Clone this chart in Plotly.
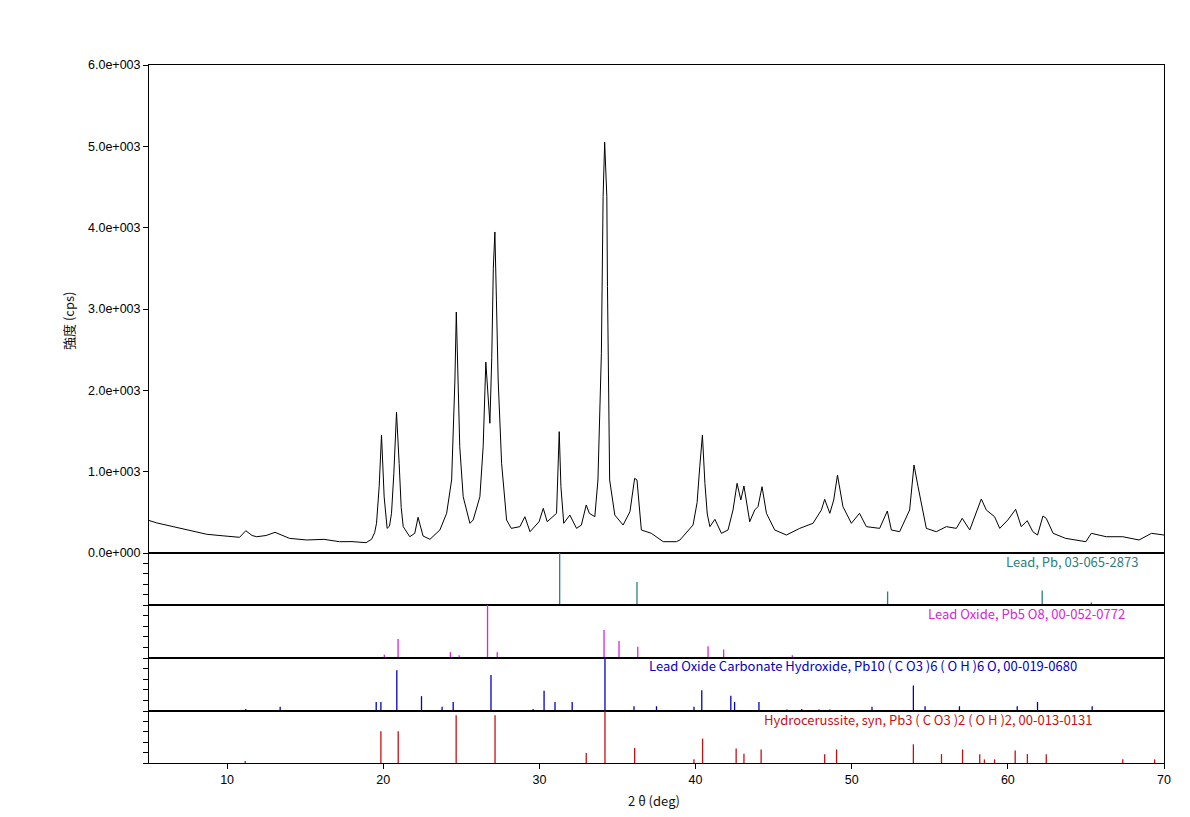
import plotly.graph_objects as go

# ---------------- data ----------------
two_theta = [5.0, 5.5, 6.55, 7.5, 8.7, 9.8, 10.8, 11.2, 11.6, 11.9, 12.5, 13.07, 13.5, 14.0, 15.1,
             16.2, 17.2, 18.0, 18.9, 19.25, 19.45, 19.57, 19.74, 19.89, 20.06, 20.25, 20.4, 20.53, 20.68, 20.85,
             21.02, 21.15, 21.28, 21.7, 22.02, 22.23, 22.55, 22.99, 23.63, 24.06, 24.38, 24.59, 24.68,
             24.9, 25.12, 25.55, 25.76, 26.19, 26.4, 26.5, 26.57, 26.83, 26.95, 27.05, 27.15, 27.25,
             27.36, 27.58, 27.9, 28.2, 28.75, 29.07, 29.4, 29.98, 30.25, 30.5, 31.1, 31.27,
             31.38, 31.56, 31.95, 32.38, 32.69, 33.0, 33.2, 33.55, 33.75, 33.97, 34.04, 34.08, 34.18,
             34.32, 34.36, 34.5,
             34.83, 35.36, 35.8, 36.1, 36.25, 36.53, 37.17, 37.93, 38.77, 39.0, 39.84, 40.1, 40.27, 40.44,
             40.6, 40.75, 40.92, 41.24, 41.66, 42.08, 42.4, 42.66, 42.9, 43.1, 43.47, 43.79, 44.0, 44.26,
             44.54, 45.07, 45.82, 46.67, 47.52, 48.06, 48.27, 48.6, 48.85, 49.09, 49.44, 49.98,
             50.5, 50.94, 51.79, 52.28, 52.54, 53.07, 53.71, 53.99, 54.25, 54.78, 55.42, 56.06,
             56.7, 57.08, 57.56, 57.98, 58.3, 58.62, 59.15, 59.48, 60.0, 60.5, 60.86, 61.24, 61.6,
             61.9, 62.25, 62.46, 62.9, 63.7, 65.0, 65.34, 66.3, 67.36, 68.4, 69.2, 70.0]
intensity = [400, 370, 324, 280, 230, 210, 193, 274, 215, 200, 215, 254, 220, 180, 160,
             168, 139, 140, 127, 168, 250, 365, 815, 1450, 690, 303, 330, 488, 980, 1730,
             1100, 560, 324, 200, 242, 439, 209, 168, 283, 488, 898, 2127, 2963,
             1307, 692, 365, 406, 692, 1307, 2127, 2348, 1595, 2400, 3500, 3947, 3100,
             2127, 1103, 406, 303, 324, 446, 262, 385, 549, 385, 488, 1492,
             815, 365, 467, 303, 344, 590, 488, 446, 898, 2455, 3398, 4381, 5050,
             4381, 3274, 898,
             467, 344, 508, 918, 898, 283, 242, 139, 139, 160, 344, 620, 1061, 1450,
             857, 480, 324, 414, 242, 283, 529, 857, 652, 824, 385, 529, 570, 815,
             488, 283, 221, 303, 365, 529, 660, 488, 652, 959, 570, 365,
             488, 324, 303, 516, 283, 262, 529, 1082, 815, 303, 262, 324,
             303, 426, 283, 488, 664, 529, 446, 303, 406, 537, 324, 397, 262,
             221, 455, 426, 242, 180, 139, 242, 200, 200, 160, 242, 221]

pb_pos = [31.3, 36.25, 52.3, 62.2, 65.35]
pb_int = [100, 44, 26, 28, 5]

pb5o8_pos = [20.07, 20.95, 24.3, 24.86, 26.68, 27.3, 34.14, 35.1, 36.3, 40.8, 41.8, 46.2]
pb5o8_int = [6, 36, 11, 5, 100, 11, 53, 32, 21, 22, 16, 5]

plumbo_pos = [11.2, 13.4, 19.55, 19.85, 20.87, 22.45, 23.77, 24.48, 26.9, 29.6, 30.3, 31.0,
              32.1, 34.2, 36.06, 37.5, 39.9, 40.4, 42.26, 42.5, 44.06, 45.85, 46.8, 47.9,
              48.6, 51.3, 53.95, 54.7, 56.9, 60.6, 61.9, 65.4]
plumbo_int = [4, 8, 17, 17, 77, 28, 8, 17, 68, 4, 38, 17,
              17, 100, 9, 9, 8, 39, 29, 17, 17, 3, 4, 3,
              3, 8, 48, 9, 9, 9, 17, 9]

hydro_pos = [11.16, 19.85, 20.96, 24.67, 27.16, 33.0, 34.2, 36.1, 39.9, 40.45, 42.6, 43.1,
             44.2, 48.27, 49.03, 53.95, 55.75, 57.1, 58.2, 58.5, 59.15, 60.47, 61.25, 62.46,
             67.36, 69.4]
hydro_int = [4, 61, 61, 92, 92, 19, 100, 29, 7, 47, 28, 18,
             26, 17, 26, 36, 17, 26, 17, 7, 7, 24, 17, 17,
             7, 7]

y_tick_vals = [0, 1000, 2000, 3000, 4000, 5000, 6000]
y_tick_text = ["0.0e+000", "1.0e+003", "2.0e+003", "3.0e+003", "4.0e+003", "5.0e+003", "6.0e+003"]
x_tick_vals = [10, 20, 30, 40, 50, 60, 70]

phases = [
    ("Lead, Pb, 03-065-2873", pb_pos, pb_int, "#2a8080"),
    ("Lead Oxide, Pb5 O8, 00-052-0772", pb5o8_pos, pb5o8_int, "#e020e0"),
    ("Lead Oxide Carbonate Hydroxide, Pb10 ( C O3 )6 ( O H )6 O, 00-019-0680", plumbo_pos, plumbo_int, "#0000c8"),
    ("Hydrocerussite, syn, Pb3 ( C O3 )2 ( O H )2, 00-013-0131", hydro_pos, hydro_int, "#c81010"),
]

# ---------------- layout geometry ----------------
W, H = 1190, 817
x0, x1 = 149 / W, 1164 / W
bounds = [65, 553, 605, 658, 711, 763]  # pixel rows of panel edges
doms = [[1 - bounds[i + 1] / H, 1 - bounds[i] / H] for i in range(5)]

tick_font = dict(family="Liberation Sans, Arial, sans-serif", size=12.5, color="#000000")

fig = go.Figure()
fig.add_trace(go.Scatter(x=two_theta, y=intensity, mode="lines",
                         line=dict(color="black", width=1), xaxis="x", yaxis="y",
                         showlegend=False, hoverinfo="skip"))

for k, (name, pos, inten, col) in enumerate(phases):
    xs, ys = [], []
    for p, v in zip(pos, inten):
        xs += [p, p, None]
        ys += [0, v, None]
    fig.add_trace(go.Scatter(x=xs, y=ys, mode="lines", line=dict(color=col, width=1.3),
                             xaxis=f"x{k + 2}", yaxis=f"y{k + 2}", showlegend=False,
                             hoverinfo="skip"))

layout = dict(
    template=None,
    width=W, height=H, margin=dict(l=0, r=0, t=0, b=0, pad=0, autoexpand=False),
    paper_bgcolor="white", plot_bgcolor="white", showlegend=False,
)

for i in range(5):
    xn = "xaxis" if i == 0 else f"xaxis{i + 1}"
    yn = "yaxis" if i == 0 else f"yaxis{i + 1}"
    ya = "y" if i == 0 else f"y{i + 1}"
    xa = "x" if i == 0 else f"x{i + 1}"
    last = (i == 4)
    layout[xn] = dict(
        domain=[x0, x1], anchor=ya, range=[5, 70], showgrid=False, zeroline=False,
        automargin=False,
        showline=True, linecolor="black", linewidth=1, mirror=True,
        ticks="outside" if last else "", ticklen=5, tickcolor="black",
        tickvals=x_tick_vals if last else [], showticklabels=last, tickfont=tick_font,
        **({} if i == 0 else {"matches": "x"}),
    )
    if i == 0:
        layout[yn] = dict(
            domain=doms[0], anchor=xa, range=[0, 6000], showgrid=False, zeroline=False,
            automargin=False,
            showline=True, linecolor="black", linewidth=1, mirror=True,
            ticks="outside", ticklen=5, tickcolor="black",
            tickvals=y_tick_vals, ticktext=y_tick_text, tickfont=tick_font,
        )
    else:
        layout[yn] = dict(
            domain=doms[i], anchor=xa, range=[0, 100], showgrid=False, zeroline=False,
            automargin=False,
            showline=True, linecolor="black", linewidth=1, mirror=True,
            ticks="outside", ticklen=5, tickcolor="black",
            tickvals=[0, 20, 40, 60, 80, 100], showticklabels=False,
        )

fig.update_layout(**layout)

lab_font = "Noto Sans CJK JP, sans-serif"
ann = [
    dict(text=phases[0][0], x=1140 / W, y=1 - 561 / H, xanchor="right", color=phases[0][3]),
    dict(text=phases[1][0], x=1127 / W, y=1 - 613 / H, xanchor="right", color=phases[1][3]),
    dict(text=phases[2][0], x=647 / W, y=1 - 665 / H, xanchor="left", color=phases[2][3]),
    dict(text=phases[3][0], x=762 / W, y=1 - 719 / H, xanchor="left", color=phases[3][3]),
]
for a in ann:
    fig.add_annotation(text=a["text"], x=a["x"], y=a["y"], xref="paper", yref="paper",
                       xanchor=a["xanchor"], yanchor="middle", showarrow=False,
                       font=dict(family=lab_font, size=13, color=a["color"]))

fig.add_annotation(text="2 θ (deg)", x=654 / W, y=1 - 800 / H, xref="paper", yref="paper",
                   xanchor="center", yanchor="middle", showarrow=False,
                   font=dict(family=lab_font, size=13, color="#111111"))
fig.add_annotation(text="強度 (cps)", x=68 / W, y=1 - 321 / H, xref="paper", yref="paper",
                   xanchor="center", yanchor="middle", showarrow=False, textangle=-90,
                   font=dict(family=lab_font, size=13, color="#111111"))

fig.write_html("out.html")
